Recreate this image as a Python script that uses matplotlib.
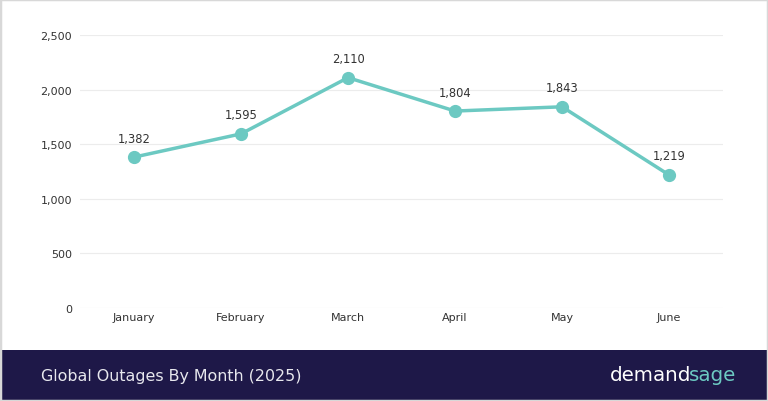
import matplotlib.pyplot as plt
from matplotlib.patches import Rectangle
from matplotlib.text import Annotation

months = ["January", "February", "March", "April", "May", "June"]
outages = [1382, 1595, 2110, 1804, 1843, 1219]
y_ticks = [0, 500, 1000, 1500, 2000, 2500]

TEAL = "#6cc9c2"
NAVY = "#1e1848"

fig = plt.figure(figsize=(7.68, 4.02), dpi=100)
fig.patch.set_facecolor("white")

ax = fig.add_axes([0.1048, 0.2313, 0.836, 0.679])
x = range(len(months))
ax.plot(x, outages, color=TEAL, lw=2.5, marker="o", ms=8.5, zorder=3)
for xi, v in zip(x, outages):
    ax.annotate(f"{v:,}", (xi, v), xytext=(0, 9), textcoords="offset points",
                ha="center", va="bottom", fontsize=8.3, color="#333333")

ax.set_xlim(-0.5, len(months) - 0.5)
ax.set_ylim(0, 2500)
ax.set_yticks(y_ticks)
ax.set_yticklabels([f"{t:,}" for t in y_ticks])
ax.set_xticks(list(x))
ax.set_xticklabels(months)
ax.tick_params(axis="both", length=0, labelsize=8, labelcolor="#333333")
ax.tick_params(axis="y", pad=6)
ax.tick_params(axis="x", pad=3)
ax.grid(axis="y", color="#ececec", lw=0.8)
ax.set_axisbelow(True)
for s in ax.spines.values():
    s.set_visible(False)

# bottom banner
fig.patches.append(Rectangle((0, 0), 1, 51 / 402, transform=fig.transFigure,
                             facecolor=NAVY, edgecolor="none", zorder=0))
fig.text(41 / 768, 25 / 402, "Global Outages By Month (2025)", color="#e8e8ee",
         fontsize=11.4, va="center", ha="left")
brand = fig.text(610 / 768, 26 / 402, "demand", color="white", fontsize=14.3,
                 va="center", ha="left")
fig.add_artist(Annotation("sage", xy=(1, 0), xycoords=brand, xytext=(-1.5, 0),
                          textcoords="offset points", va="bottom", ha="left",
                          color=TEAL, fontsize=14.3))

# thin gray frame
fig.patches.append(Rectangle((0, 0), 1, 1, transform=fig.transFigure,
                             facecolor="none", edgecolor="#d8d8d8", lw=2.5, zorder=5))

fig.savefig("out.png", dpi=100)
